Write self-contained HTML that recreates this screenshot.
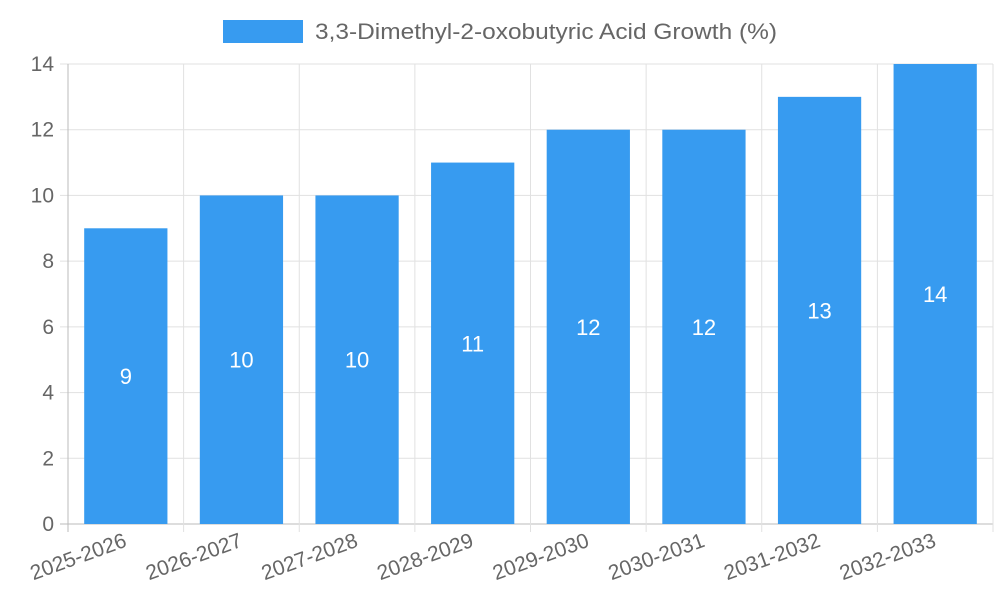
<!DOCTYPE html>
<html><head><meta charset="utf-8"><style>
html,body{margin:0;padding:0;background:#fff;}
svg{display:block;font-family:"Liberation Sans",sans-serif;}
</style></head><body>
<svg id="chart" width="1000" height="600">
<g>
<rect x="223" y="20" width="80" height="23" fill="#379bf0"></rect>
<text x="315" y="39" font-size="22" fill="#666" textLength="462" lengthAdjust="spacingAndGlyphs">3,3-Dimethyl-2-oxobutyric Acid Growth (%)</text>
</g>
<g id="grid"></g>
<g id="bars"></g>
<g id="axes"></g>
</svg>
<script>
const categories = ["2025-2026","2026-2027","2027-2028","2028-2029","2029-2030","2030-2031","2031-2032","2032-2033"];
const values = [9,10,10,11,12,12,13,14];
const yTicks = [0,2,4,6,8,10,12,14];

const NS="http://www.w3.org/2000/svg";
const pLeft=68,pRight=993,pTop=64,pBottom=524,yMax=14;
const bw=(pRight-pLeft)/categories.length;
const yScale=v=>pBottom-(v/yMax)*(pBottom-pTop);
const xc=i=>pLeft+bw*(i+0.5);
function mk(tag,attrs,parent){const e=document.createElementNS(NS,tag);for(const k in attrs)e.setAttribute(k,attrs[k]);parent.appendChild(e);return e;}
const gGrid=document.getElementById('grid'),gBars=document.getElementById('bars'),gAxes=document.getElementById('axes');

yTicks.forEach(t=>{
  const l=mk('line',{x1:pLeft-8,x2:pRight,y1:yScale(t),y2:yScale(t),stroke:t===0?'#bbb':'#e1e1e1','stroke-width':1},gGrid);
  
  
  const tx=mk('text',{x:pLeft-14,y:yScale(t)+7,'text-anchor':'end','font-size':21,fill:'#666'},gAxes);
  tx.textContent=t;
  
  
});
for(let i=0;i<=categories.length;i++){
  const x=pLeft+bw*i;
  const l=mk('line',{x1:x,x2:x,y1:pTop,y2:pBottom+8,stroke:i===0?'#bbb':'#e1e1e1','stroke-width':1},gGrid);
  
  
}
categories.forEach((c,i)=>{
  const w=bw*0.72;
  const r=mk('rect',{x:xc(i)-w/2,y:yScale(values[i]),width:w,height:pBottom-yScale(values[i]),fill:'#379bf0'},gBars);
  
  
  const v=mk('text',{x:xc(i),y:(yScale(values[i])+pBottom)/2+8,'text-anchor':'middle','font-size':22,fill:'#fff'},gBars);
  v.textContent=values[i];
  
  
  const t=mk('text',{x:xc(i)+2,y:pBottom+22,'text-anchor':'end','font-size':21,fill:'#666',transform:`rotate(-20 ${xc(i)+2} ${pBottom+22})`},gAxes);
  t.textContent=c;
  
  
});
</script>
</body></html>
